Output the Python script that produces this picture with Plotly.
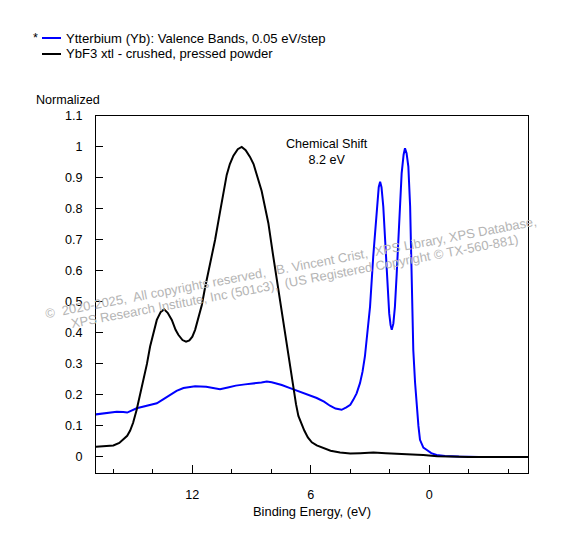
import plotly.graph_objects as go

# ---- data ----
ybf3_be = [16.9, 16.4, 16.0, 15.7, 15.5, 15.3, 15.15, 15.0, 14.82, 14.65, 14.48, 14.3, 14.14, 13.97, 13.8,
           13.6, 13.43, 13.25, 13.04, 12.85, 12.71, 12.5, 12.32, 12.15, 12.0, 11.86, 11.7, 11.52, 11.36,
           11.19, 11.0, 10.85, 10.6, 10.43, 10.26, 10.1, 9.92, 9.7, 9.5, 9.3, 9.08, 8.9, 8.74, 8.6, 8.49,
           8.3, 8.15, 7.9, 7.65, 7.39, 7.14, 6.89, 6.75, 6.63, 6.45, 6.33, 6.15, 5.95, 5.7, 5.37, 5.0,
           4.52, 4.0, 3.5, 2.83, 2.2, 1.6, 1.14, 0.6, 0.3, -0.1, -0.4, -1.0, -2.0, -5.0]
ybf3_val = [0.033, 0.034, 0.037, 0.045, 0.055, 0.068, 0.085, 0.11, 0.152, 0.2, 0.248, 0.30, 0.356, 0.40, 0.442,
            0.468, 0.476, 0.465, 0.442, 0.41, 0.394, 0.377, 0.372, 0.376, 0.388, 0.41, 0.445, 0.49, 0.545,
            0.593, 0.65, 0.70, 0.79, 0.855, 0.91, 0.945, 0.972, 0.993, 1.0, 0.99, 0.968, 0.945, 0.912, 0.885, 0.858,
            0.80, 0.754, 0.646, 0.539, 0.431, 0.324, 0.216, 0.17, 0.132, 0.10, 0.085, 0.063, 0.047, 0.037, 0.028, 0.02,
            0.014, 0.011, 0.012, 0.014, 0.012, 0.011, 0.010, 0.007, 0.006, 0.003, 0.002, 0.001, 0.0, 0.0]

yb_be = [16.9, 16.5, 16.2, 15.83, 15.5, 15.3, 14.82, 14.3, 13.8, 13.5, 13.13, 12.8, 12.45, 12.1, 11.86,
         11.3, 10.9, 10.6, 10.2, 9.8, 9.33, 8.9, 8.5, 8.23, 7.98, 7.7, 7.47, 7.05, 6.8, 6.33, 6.04, 5.7,
         5.33, 5.03, 4.75, 4.44, 4.2, 4.0, 3.85, 3.68, 3.51, 3.38, 3.26, 3.13, 3.0, 2.84, 2.66, 2.56, 2.49,
         2.42, 2.33, 2.25, 2.16, 2.03, 1.96, 1.9, 1.82, 1.74, 1.65, 1.57, 1.48, 1.4, 1.3, 1.23, 1.15, 1.06,
         0.97, 0.89, 0.81, 0.72, 0.64, 0.55, 0.47, 0.3, 0.14, -0.1, -0.37, -0.8, -1.5, -2.5, -5.0]
yb_val = [0.137, 0.14, 0.143, 0.146, 0.145, 0.143, 0.157, 0.165, 0.173, 0.185, 0.2, 0.213, 0.222, 0.227, 0.228,
          0.226, 0.222, 0.218, 0.224, 0.23, 0.234, 0.236, 0.24, 0.243, 0.241, 0.236, 0.232, 0.222, 0.216, 0.207, 0.2, 0.19,
          0.178, 0.165, 0.156, 0.152, 0.16, 0.168, 0.184, 0.205, 0.238, 0.275, 0.324, 0.40, 0.485, 0.646, 0.808, 0.87, 0.888,
          0.87, 0.808, 0.71, 0.593, 0.463, 0.425, 0.41, 0.43, 0.485, 0.59, 0.70, 0.81, 0.915, 0.975, 0.996, 0.98, 0.937,
          0.808, 0.593, 0.345, 0.24, 0.162, 0.10, 0.055, 0.03, 0.023, 0.012, 0.006, 0.003, 0.001, 0.0, 0.0]

series_names = ["Ytterbium (Yb): Valence Bands, 0.05 eV/step", "YbF3 xtl - crushed, pressed powder"]
series_colors = ["#0000ff", "#000000"]

FONT = "Arial, Liberation Sans, sans-serif"
FS = 12.6

fig = go.Figure()
fig.add_trace(go.Scatter(x=yb_be, y=yb_val, mode="lines", name=series_names[0],
                         line=dict(color=series_colors[0], width=2), showlegend=False))
fig.add_trace(go.Scatter(x=ybf3_be, y=ybf3_val, mode="lines", name=series_names[1],
                         line=dict(color=series_colors[1], width=2), showlegend=False))

# plot area: x 96..528, y 116..473 px
W, H = 585, 547
L, R, T, B = 96, 57, 116, 74
pw, ph = W - L - R, H - T - B


def px(x):
    return (x - L) / pw


def py(y):
    return (H - B - y) / ph


shapes = []
annotations = []
# manual legend
for i, (nm, col) in enumerate(zip(series_names, series_colors)):
    yy = 38 + 16 * i
    shapes.append(dict(type="line", xref="paper", yref="paper", x0=px(42), x1=px(61), y0=py(yy), y1=py(yy),
                       line=dict(color=col, width=2)))
    annotations.append(dict(xref="paper", yref="paper", x=px(65), y=py(yy), text=nm, showarrow=False,
                            xanchor="left", yanchor="middle", borderpad=0,
                            font=dict(family=FONT, size=13.1, color="black")))
annotations.append(dict(xref="paper", yref="paper", x=px(35.7), y=py(38), text="*", showarrow=False,
                        xanchor="center", yanchor="middle", font=dict(family=FONT, size=FS, color="black")))
annotations.append(dict(xref="paper", yref="paper", x=px(35), y=py(100), text="Normalized", showarrow=False,
                        xanchor="left", yanchor="middle", borderpad=0,
                        font=dict(family=FONT, size=FS, color="black")))
annotations.append(dict(xref="x", yref="y", x=5.2, y=0.985, text="Chemical Shift<br>8.2 eV", showarrow=False,
                        xanchor="center", yanchor="middle", font=dict(family=FONT, size=FS, color="black")))
# watermark
wm_color = "#b4b4b4"
annotations.append(dict(xref="paper", yref="paper", x=px(290.5), y=py(267.5),
                        text="©  2020-2025,  All copyrights reserved,   B. Vincent Crist,  XPS Library, XPS Database,",
                        showarrow=False, textangle=-10.7, xanchor="center", yanchor="middle",
                        font=dict(family=FONT, size=13, color=wm_color)))
annotations.append(dict(xref="paper", yref="paper", x=px(294), y=py(281),
                        text="XPS Research Institute, Inc (501c3),  (US Registered Copyright © TX-560-881)",
                        showarrow=False, textangle=-10.7, xanchor="center", yanchor="middle",
                        font=dict(family=FONT, size=13, color=wm_color)))

fig.update_layout(
    width=W, height=H,
    margin=dict(l=L, r=R, t=T, b=B, pad=0),
    paper_bgcolor="white", plot_bgcolor="white",
    font=dict(family=FONT, size=FS, color="black"),
    shapes=shapes, annotations=annotations,
    showlegend=False,
)
fig.update_xaxes(
    range=[16.88, -5.0], tick0=0, dtick=6, ticks="inside", ticklen=8, tickcolor="black",
    minor=dict(dtick=2, ticks="inside", ticklen=4, tickcolor="black"),
    showline=True, linecolor="black", linewidth=1, mirror=True, showgrid=False, zeroline=False,
    ticklabelstandoff=10,
    title=dict(text="Binding Energy, (eV)", font=dict(family=FONT, size=12.9), standoff=5),
    tickfont=dict(family=FONT, size=FS, color="black"),
)
fig.update_yaxes(
    range=[-0.052, 1.1], tick0=0, dtick=0.1, ticks="inside", ticklen=7, tickcolor="black",
    showline=True, linecolor="black", linewidth=1, mirror=True, showgrid=False, zeroline=False,
    ticklabelstandoff=10,
    tickfont=dict(family=FONT, size=FS, color="black"),
)

fig.write_html("out.html")
